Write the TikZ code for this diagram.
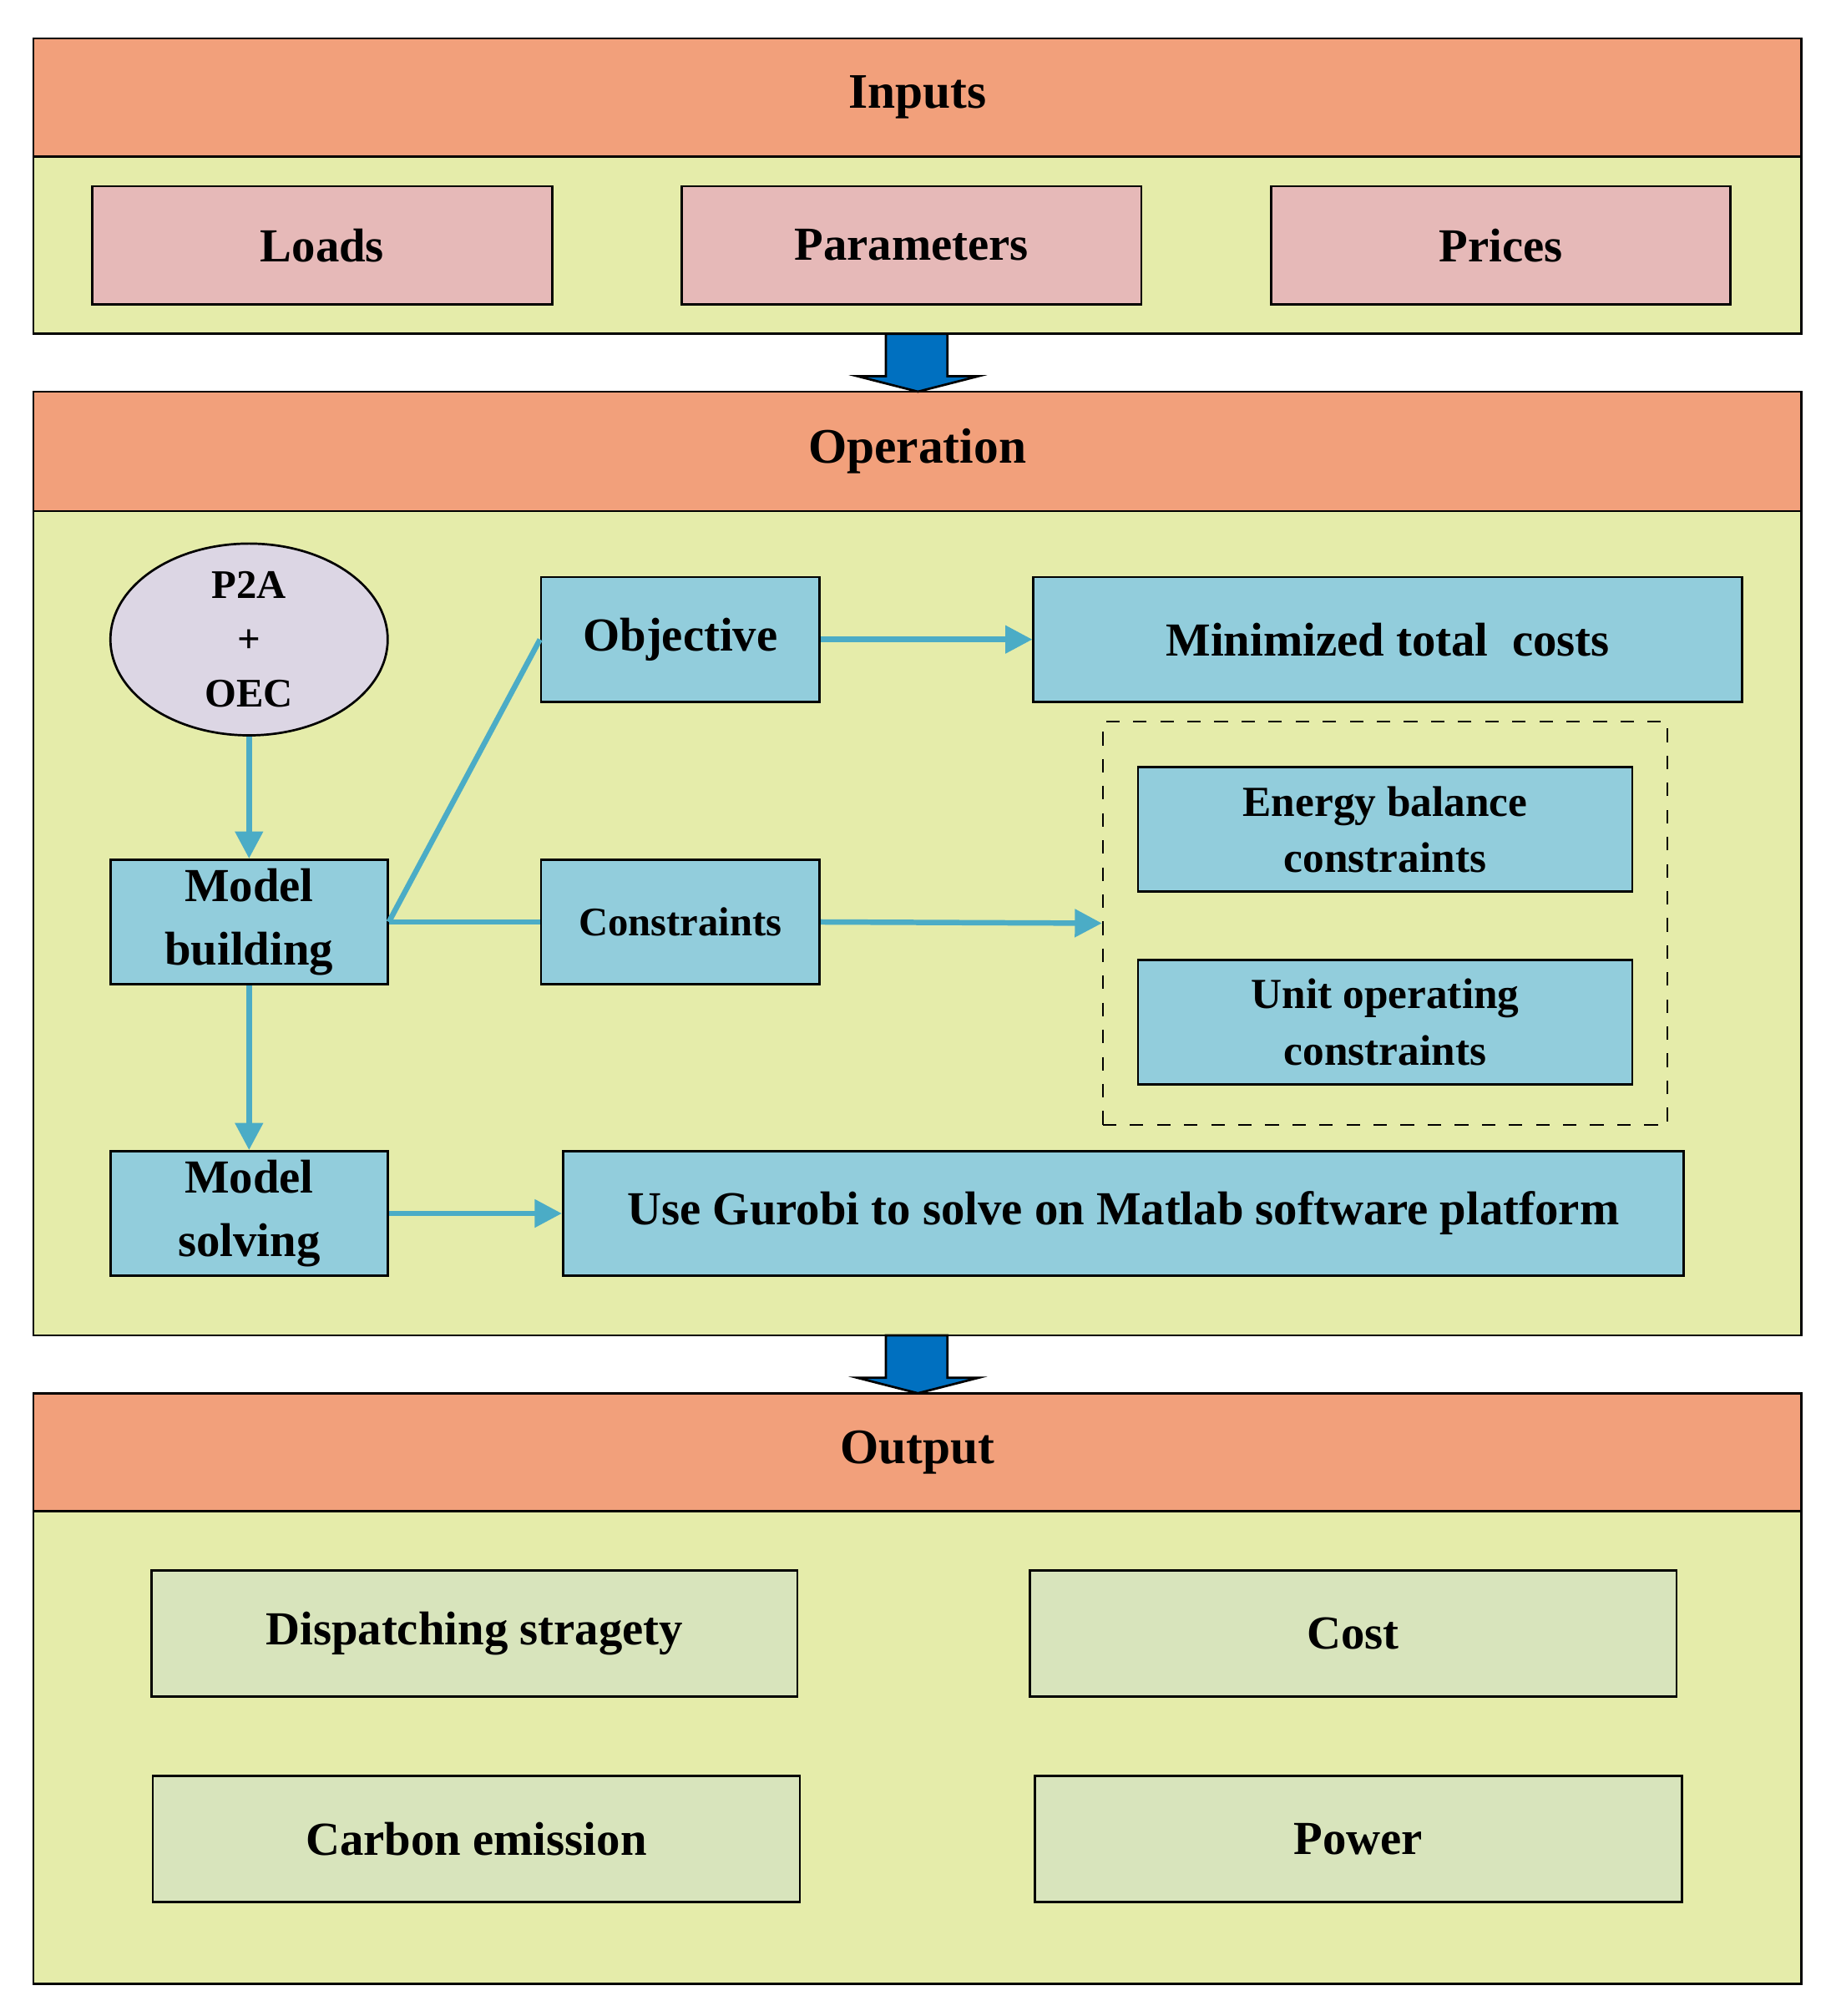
\documentclass[tikz,border=0pt]{standalone}
\usepackage{fontspec}
\setmainfont{Liberation Serif}
\usetikzlibrary{arrows.meta,shapes.geometric}
\definecolor{hdr}{HTML}{F2A07B}
\definecolor{body}{HTML}{E5ECAA}
\definecolor{inb}{HTML}{E6B9B8}
\definecolor{opb}{HTML}{92CDDC}
\definecolor{outb}{HTML}{D8E4BC}
\definecolor{ell}{HTML}{DCD6E4}
\definecolor{blk}{HTML}{0070C0}
\definecolor{con}{HTML}{4BACC6}
\begin{document}
\begin{tikzpicture}[x=0.1mm,y=-0.1mm,
 box/.style={draw=black,line width=0.5pt,inner sep=0pt,font=\fontsize{10.5}{13}\selectfont\bfseries,align=center},
 lnk/.style={draw=con,line width=1.2pt},
 arr/.style={lnk,-{Triangle[length=6pt,width=6pt]}}]
\useasboundingbox (0,0) rectangle (1422,1570);
\fill[white] (0,0) rectangle (1422,1570);
% bands
\foreach \a/\b/\c/\t/\n in {30/122/260/Inputs/hi,305/398/1040/Operation/ho,1085/1177/1545/Output/hu}{
 \fill[body] (26,\b) rectangle (1403,\c);
 \fill[hdr] (26,\a) rectangle (1403,\b);
 \draw[line width=0.5pt] (26,\a) rectangle (1403,\c) (26,\b) -- (1403,\b);
 \node[font=\fontsize{11}{13}\selectfont\bfseries] (\n) at (714.5,{(\a+\b)/2}) {\t};
}
% block arrows
\foreach \y in {260,1040}{
 \filldraw[fill=blk,draw=black,line width=0.5pt] (690,\y) -- (738,\y) -- (738,\y+33) -- (762,\y+33) -- (715,\y+45) -- (668,\y+33) -- (690,\y+33) -- cycle;
}
% inputs
\node[box,fill=inb,minimum width=35.8mm,minimum height=9.2mm] (loads) at (251,191) {Loads};
\node[box,fill=inb,minimum width=35.8mm,minimum height=9.2mm] (par) at (710,191) {Parameters};
\node[box,fill=inb,minimum width=35.8mm,minimum height=9.2mm] (pri) at (1169,191) {Prices};
% operation
\node[ellipse,draw=black,line width=0.5pt,fill=ell,minimum width=21.6mm,minimum height=14.4mm,inner sep=0pt,align=center,font=\fontsize{9}{12}\selectfont\bfseries] (p2a) at (194,498) {P2A\\+\\OEC};
\node[box,fill=opb,minimum width=21.6mm,minimum height=9.7mm,font=\fontsize{10.5}{14}\selectfont\bfseries] (mb) at (194,718) {Model\\building};
\node[box,fill=opb,minimum width=21.6mm,minimum height=9.7mm,font=\fontsize{10.5}{14}\selectfont\bfseries] (ms) at (194,945) {Model\\solving};
\node[box,fill=opb,minimum width=21.7mm,minimum height=9.7mm] (obj) at (530,498) {Objective};
\node[box,fill=opb,minimum width=21.7mm,minimum height=9.7mm,font=\fontsize{9}{12}\selectfont\bfseries] (cons) at (530,718) {Constraints};
\node[box,fill=opb,minimum width=55.2mm,minimum height=9.7mm] (min) at (1081,498) {Minimized total\ \ costs};
\node[draw=black,dashed,line width=0.4pt,minimum width=44mm,minimum height=31.4mm,inner sep=0pt] (grp) at (1079,719) {};
\node[box,fill=opb,minimum width=38.5mm,minimum height=9.7mm,font=\fontsize{9.5}{12.5}\selectfont\bfseries] (eb) at (1079,646) {Energy balance\\constraints};
\node[box,fill=opb,minimum width=38.5mm,minimum height=9.7mm,font=\fontsize{9.5}{12.5}\selectfont\bfseries] (uo) at (1079,796) {Unit operating\\constraints};
\node[box,fill=opb,minimum width=87.3mm,minimum height=9.7mm] (gur) at (875,945) {Use Gurobi to solve on Matlab software platform};
% connectors
\draw[arr] (p2a.south) -- (mb.north);
\draw[arr] (mb.south) -- (ms.north);
\draw[lnk] (mb.east) -- (obj.west);
\draw[lnk] (mb.east) -- (cons.west);
\draw[arr] (obj.east) -- (min.west);
\draw[arr] (cons.east) -- (grp.west);
\draw[arr] (ms.east) -- (gur.west);
% outputs
\node[box,fill=outb,minimum width=50.3mm,minimum height=9.8mm] (dis) at (369.5,1272) {Dispatching stragety};
\node[box,fill=outb,minimum width=50.4mm,minimum height=9.8mm] (cost) at (1054,1272) {Cost};
\node[box,fill=outb,minimum width=50.4mm,minimum height=9.8mm] (car) at (371,1432) {Carbon emission};
\node[box,fill=outb,minimum width=50.4mm,minimum height=9.8mm] (pow) at (1058,1432) {Power};
\end{tikzpicture}
\end{document}
